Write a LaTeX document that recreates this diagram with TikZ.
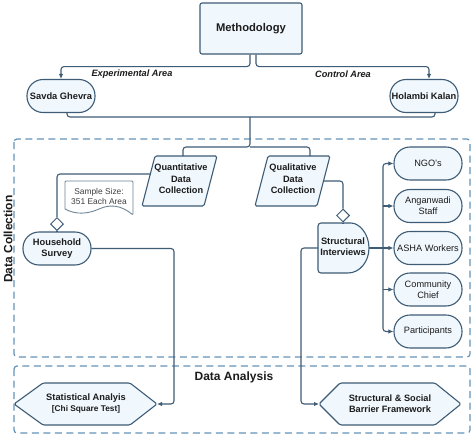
\documentclass[tikz,border=0pt]{standalone}
\usepackage{fontspec}
\setmainfont{Liberation Sans}
\usetikzlibrary{arrows.meta,calc,shapes.geometric}
\definecolor{ln}{RGB}{62,92,117}
\definecolor{dsh}{RGB}{100,148,185}
\definecolor{fl}{RGB}{240,247,253}
\definecolor{tx}{RGB}{28,28,28}
\begin{document}
\begin{tikzpicture}[x=1pt,y=-1pt,
  shp/.style={draw=ln,fill=fl,line width=1.1pt},
  pill/.style={shp,rounded corners=16pt,minimum width=68pt,minimum height=33pt,inner sep=1pt,align=center,text=tx,font=\fontsize{9.2}{11}\selectfont},
  bpill/.style={pill,font=\bfseries\fontsize{9.3}{11.5}\selectfont},
  lbl/.style={inner sep=0pt,align=center,text=tx,font=\bfseries\fontsize{9.2}{11.5}\selectfont},
  area/.style={inner sep=0pt,text=tx,font=\bfseries\itshape\fontsize{9.2}{11}\selectfont},
  conn/.style={draw=ln,line width=1.1pt,rounded corners=3pt},
  arr/.style={conn,-{Latex[length=5pt,width=4.5pt]}},
  dbox/.style={draw=dsh,line width=1.2pt,dash pattern=on 7pt off 4.5pt,rounded corners=3pt},
  dia/.style={diamond,draw=ln,fill=white,line width=1pt,minimum size=13pt,inner sep=0pt,shape aspect=1},
  ttl/.style={inner sep=0pt,text=tx,font=\bfseries\fontsize{12}{14}\selectfont}]
\useasboundingbox (0,0) rectangle (474,439);
\fill[white] (0,0) rectangle (474,439);
% dashed group boxes
\draw[dbox] (14,139) rectangle (470,357);
\draw[dbox] (14,366) rectangle (470,433);
\node[ttl,rotate=90] (dcl) at (8,239) {Data Collection};
\node[ttl] (dal) at (234,377) {Data Analysis};
% top
\node[shp,rounded corners=2pt,minimum width=102pt,minimum height=51pt,inner sep=0pt,text=tx,font=\bfseries\fontsize{11.2}{13}\selectfont] (meth) at (251,28.5) {Methodology};
\node[bpill] (savda) at (61,96) {Savda Ghevra};
\node[bpill] (holambi) at (424,96) {Holambi Kalan};
\node[area] (exp) at (132,74) {Experimental Area};
\node[area] (ctl) at (343,74) {Control Area};
\coordinate (jn) at (250,117);
\coordinate (jn2) at (250,147);
\draw[arr] ($(meth.south)+(-1,0)$) -- ++(0,12) -| (savda.north);
\draw[arr] ($(meth.south)+(5,0)$) -- ++(0,12) -| ($(holambi.north)+(5,0)$);
\draw[conn] ($(savda.south)+(6,0)$) |- (jn);
\draw[conn] ($(holambi.south)+(11,0)$) |- (jn);
% parallelograms
\filldraw[shp,rounded corners=1.5pt] (142,206) -- (155,156) -- (217,156) -- (204,206) -- cycle;
\filldraw[shp,rounded corners=1.5pt] (255,206) -- (268,156) -- (330,156) -- (317,206) -- cycle;
\node[lbl] (quant) at (181,179) {Quantitative\\Data\\Collection};
\node[lbl] (qual) at (293,179) {Qualitative\\Data\\Collection};
\coordinate (qtTop) at (183,156);
\coordinate (qlTop) at (310,156);
\coordinate (qtL) at (150,174);
\coordinate (qlR) at (324,181);
\draw[conn] (jn) -- (jn2) -| (qtTop);
\draw[conn] (jn2) -| (qlTop);
% sample size document
\filldraw[draw=ln!75,fill=white,line width=0.9pt,rounded corners=1pt] (65,181) -- (133,181) -- (133,215)
  [sharp corners] .. controls (121,205) and (110,204) .. (99,209) .. controls (88,214) and (76,215) .. (65,209) [rounded corners=1pt] -- cycle;
\node[inner sep=0pt,align=center,text=tx!85,font=\fontsize{8.4}{10}\selectfont] (samp) at (99,196) {Sample Size:\\351 Each Area};
% household survey
\node[dia] (d1) at (57,224) {};
\node[bpill,minimum width=68pt] (hh) at (57,248.5) {Household\\Survey};
\draw[conn] (qtL) -| (d1.north);
\draw[conn] (d1.south) -- (hh.north);
% statistical hexagon
\filldraw[shp,rounded corners=1.5pt] (14,404) -- (43,383) -- (130,383) -- (157,404) -- (130,425) -- (43,425) -- cycle;
\node[lbl,font=\bfseries\fontsize{9.3}{10.5}\selectfont] (stat) at (86,398) {Statistical Analyis};
\node[lbl,font=\bfseries\fontsize{8.3}{10}\selectfont] (chi) at (86,409) {[Chi Square Test]};
\coordinate (statR) at (157,404);
\coordinate (hbend) at (174,300);
\draw[arr] (hh.east) -| (hbend) |- (statR);
% structural interviews
\filldraw[shp] (348,223) arc[start angle=90,end angle=-90,x radius=21pt,y radius=25pt] [rounded corners=3pt] -- (318,273) -- (318,223) -- cycle;
\node[lbl,font=\bfseries\fontsize{9.3}{11}\selectfont] (si) at (343,247) {Structural\\Interviews};
\coordinate (siTop) at (343,223);
\coordinate (siL) at (318,248);
\coordinate (siR) at (369,248);
\node[dia] (d2) at (343,215.5) {};
\draw[conn] (qlR) -| (d2.north);
\draw[conn] (d2.south) -- (siTop);
% structural & social hexagon
\filldraw[shp,rounded corners=1.5pt] (319,404) -- (340,383) -- (435,383) -- (461,404) -- (435,425) -- (340,425) -- cycle;
\node[lbl] (ssb) at (390,403.5) {Structural \& Social\\Barrier Framework};
\coordinate (socL) at (319,404);
\coordinate (sbend) at (301,300);
\draw[arr] (siL) -| (sbend) |- (socL);
% right column
\node[pill] (ngo) at (428,163.5) {NGO's};
\node[pill] (ang) at (428,206) {Anganwadi\\Staff};
\node[pill] (asha) at (428,248) {ASHA Workers};
\node[pill] (comm) at (428,289.5) {Community\\Chief};
\node[pill] (part) at (428,331.5) {Participants};
\coordinate (trunk) at (383,248);
\draw[arr] (siR) -- (asha.west);
\draw[arr] (trunk) |- (ngo.west);
\draw[arr] (trunk) |- (part.west);
\draw[arr] (ang.west -| trunk) -- (ang.west);
\draw[arr] (comm.west -| trunk) -- (comm.west);
\end{tikzpicture}
\end{document}
